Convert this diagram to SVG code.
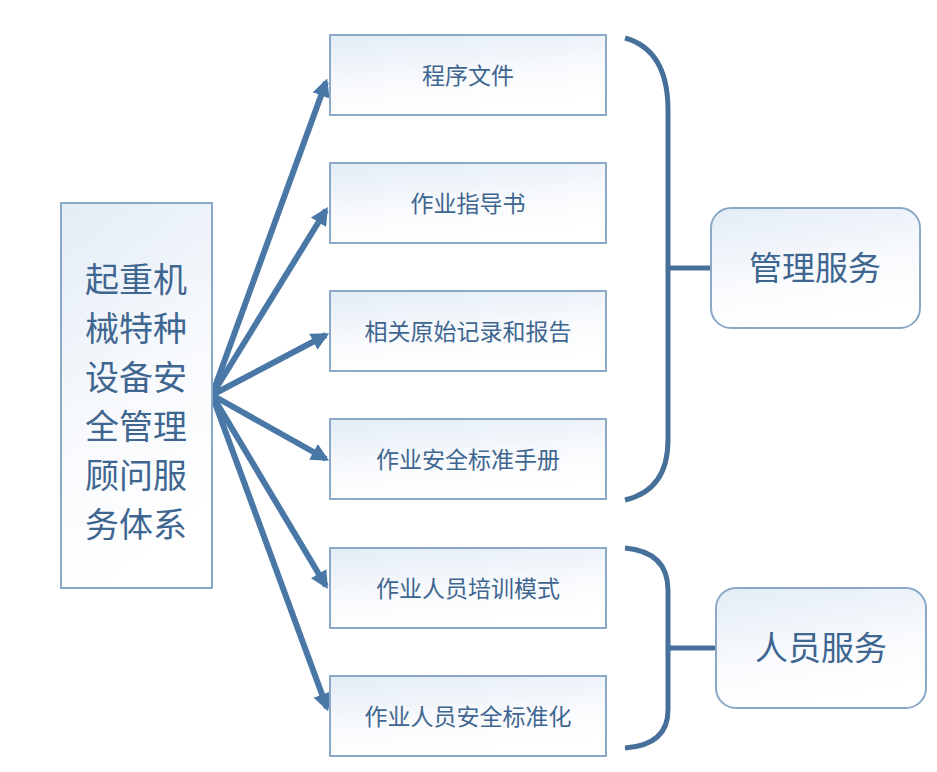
<svg xmlns="http://www.w3.org/2000/svg" width="937" height="772" viewBox="0 0 937 772">
<defs>
<linearGradient id="g" x1="0" y1="0" x2="0.3" y2="1"><stop offset="0" stop-color="#e3ecf6"/><stop offset="0.6" stop-color="#f8fafd"/><stop offset="1" stop-color="#ffffff"/></linearGradient>
<marker id="ah" markerWidth="3" markerHeight="3" refX="2.4" refY="1.5" orient="auto"><path d="M0,0 L3,1.5 L0,3 z" fill="#4a78a6"/></marker>
<style>
.b{fill:url(#g);stroke:#8aa8c8;stroke-width:2}
.t{font-family:"Noto Sans CJK SC",sans-serif;fill:#3f6690;text-anchor:middle}
.c{stroke:#4a78a6;stroke-width:6;fill:none;marker-end:url(#ah)}
.br{stroke:#46709a;stroke-width:5;fill:none}
</style>
</defs>
<rect width="937" height="772" fill="#fff"/>
<g id="connectors">
<line class="c" x1="212" y1="395" x2="326" y2="82"/>
<line class="c" x1="212" y1="395" x2="326" y2="210"/>
<line class="c" x1="212" y1="395" x2="326" y2="335"/>
<line class="c" x1="212" y1="395" x2="326" y2="459"/>
<line class="c" x1="212" y1="395" x2="326" y2="586"/>
<line class="c" x1="212" y1="395" x2="327" y2="708"/>
<path class="br" d="M625,38 Q668,50 668,110 L668,268 L711,268 M668,268 L668,440 Q668,490 625,500"/>
<path class="br" d="M625,548 Q668,552 668,590 L668,648 L716,648 M668,648 L668,710 Q668,745 625,748"/>
</g>
<g id="root"><rect class="b" x="61" y="203" width="151" height="385"/>
<text class="t" font-size="34"><tspan x="136" y="292">起重机</tspan><tspan x="136" y="341">械特种</tspan><tspan x="136" y="390">设备安</tspan><tspan x="136" y="439">全管理</tspan><tspan x="136" y="488">顾问服</tspan><tspan x="136" y="537">务体系</tspan></text></g>
<g id="n1"><rect class="b" x="330" y="35" width="276" height="80"/><text class="t" x="468" y="84" font-size="23">程序文件</text></g>
<g id="n2"><rect class="b" x="330" y="163" width="276" height="80"/><text class="t" x="468" y="212" font-size="23">作业指导书</text></g>
<g id="n3"><rect class="b" x="330" y="291" width="276" height="80"/><text class="t" x="468" y="340" font-size="23">相关原始记录和报告</text></g>
<g id="n4"><rect class="b" x="330" y="419" width="276" height="80"/><text class="t" x="468" y="468" font-size="23">作业安全标准手册</text></g>
<g id="n5"><rect class="b" x="330" y="548" width="276" height="80"/><text class="t" x="468" y="597" font-size="23">作业人员培训模式</text></g>
<g id="n6"><rect class="b" x="330" y="676" width="276" height="80"/><text class="t" x="468" y="725" font-size="23">作业人员安全标准化</text></g>
<g id="m1"><rect class="b" x="711" y="208" width="209" height="120" rx="20"/><text class="t" x="815" y="280" font-size="33">管理服务</text></g>
<g id="m2"><rect class="b" x="716" y="588" width="210" height="120" rx="20"/><text class="t" x="821" y="660" font-size="33">人员服务</text></g>
</svg>
